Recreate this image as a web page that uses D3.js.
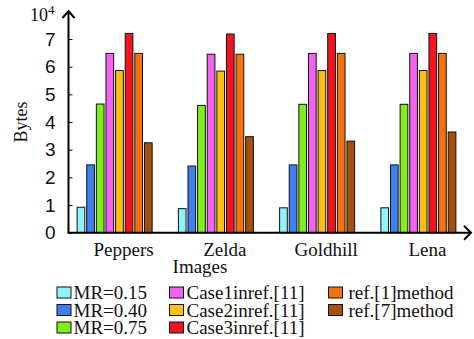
<!DOCTYPE html>
<html><head><meta charset="utf-8">
<script src="https://cdn.jsdelivr.net/npm/d3@7"></script>
<style>body{margin:0;background:#fff}</style>
</head><body>
<svg id="c" width="474" height="339"></svg>
<script>
const categories = ["Peppers","Zelda","Goldhill","Lena"];
const seriesNames = ["MR=0.15","MR=0.40","MR=0.75","Case1inref.[11]","Case2inref.[11]","Case3inref.[11]","ref.[1]method","ref.[7]method"];
const seriesColors = ["#8ff3f8","#3f7ff0","#80ee1c","#f462f0","#fcc114","#f2141f","#f5720f","#a44f0c"];
const mr015 = [0.92,0.87,0.90,0.90];
const mr040 = [2.45,2.41,2.45,2.45];
const mr075 = [4.65,4.60,4.64,4.64];
const case1 = [6.48,6.45,6.48,6.48];
const case2 = [5.86,5.84,5.86,5.86];
const case3 = [7.20,7.18,7.20,7.20];
const ref1  = [6.48,6.45,6.48,6.48];
const ref7  = [3.25,3.47,3.31,3.64];
const yTicks = [0,1,2,3,4,5,6,7];
const seriesValues = [mr015,mr040,mr075,case1,case2,case3,ref1,ref7];

const svg = d3.select("#c");
const x0 = d3.scaleBand().domain(categories).range([64,469]).paddingInner(0.24).paddingOuter(0.12);
const x1 = d3.scaleBand().domain(seriesNames).range([0,x0.bandwidth()]).paddingInner(0.2).paddingOuter(0.1);
const y = d3.scaleLinear().domain([0,7]).range([232.7,39]);
const axX = 68.5;

// bars
seriesNames.forEach((s,i)=>{
  svg.append("g").selectAll("rect").data(categories).join("rect")
    .attr("x", c=>x0(c)+x1(s))
    .attr("y", (c,j)=>y(seriesValues[i][j]))
    .attr("width", x1.bandwidth())
    .attr("height", (c,j)=>y(0)-y(seriesValues[i][j]))
    .attr("fill", seriesColors[i])
    .attr("stroke","#111").attr("stroke-width",1);
});

// y axis
const yAxis = d3.axisLeft(y).tickValues(yTicks).tickSize(-4).tickPadding(13).tickFormat(d3.format("d"));
const gy = svg.append("g").attr("transform",`translate(${axX},0)`).call(yAxis);
gy.select(".domain").remove();
gy.selectAll("text").attr("font-family","'Liberation Sans', Arial, sans-serif").attr("font-size",19).attr("fill","#111");
gy.selectAll("line").attr("stroke","#111");
svg.append("line").attr("x1",axX).attr("x2",axX).attr("y1",y(0)).attr("y2",11).attr("stroke","#000").attr("stroke-width",2);
svg.append("path").attr("d",`M${axX-6},${18} L${axX},${11} L${axX+6},${18}`).attr("fill","none").attr("stroke","#000").attr("stroke-width",2);

// x axis
svg.append("line").attr("x1",axX-1).attr("x2",471).attr("y1",y(0)).attr("y2",y(0)).attr("stroke","#000").attr("stroke-width",2);
svg.append("path").attr("d",`M464,${y(0)-7} L471,${y(0)} L464,${y(0)+7}`).attr("fill","none").attr("stroke","#000").attr("stroke-width",2);

const serif = "'Liberation Serif', 'Times New Roman', serif";
svg.append("g").selectAll("text").data(categories).join("text")
  .attr("x", c=>x0(c)+x0.bandwidth()/2+9).attr("y",256)
  .attr("text-anchor","middle").attr("font-family",serif).attr("font-size",19).attr("fill","#111").text(d=>d);

svg.append("text").attr("x",200).attr("y",273).attr("text-anchor","middle").attr("font-family",serif).attr("font-size",19).attr("fill","#111").text("Images");
svg.append("text").attr("transform","translate(27,122) rotate(-90)").attr("text-anchor","middle").attr("font-family",serif).attr("font-size",18).attr("fill","#111").text("Bytes");
const tp = svg.append("text").attr("x",30).attr("y",21).attr("font-family",serif).attr("font-size",18).attr("fill","#111");
tp.append("tspan").text("10");
tp.append("tspan").attr("dy",-7).attr("font-size",13).text("4");

// legend
const colX = [57,169.5,328.5];
const textX = [73.5,186.5,348.5];
const rowY = [292.5,310,327.5];
const leg = svg.append("g");
seriesNames.forEach((s,i)=>{
  const col = i<3?0:(i<6?1:2);
  const row = i<3?i:(i<6?i-3:i-6);
  leg.append("rect").attr("x",colX[col]).attr("y",rowY[row]-5.5).attr("width",14).attr("height",11)
    .attr("fill",seriesColors[i]).attr("stroke","#111").attr("stroke-width",1);
  leg.append("text").attr("x",textX[col]).attr("y",rowY[row]+6.5).attr("font-family",serif).attr("font-size",19).attr("fill","#111").text(s);
});
</script>
</body></html>
